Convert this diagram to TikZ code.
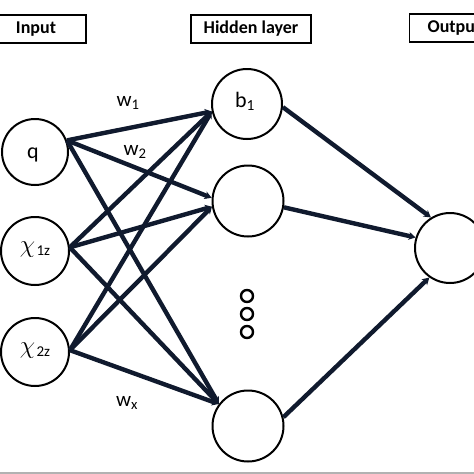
\documentclass[tikz,border=0pt]{standalone}
\usepackage{fontspec}
\setmainfont{Carlito}
\usetikzlibrary{arrows.meta}
\definecolor{linec}{HTML}{101A2E}
\newcommand{\chisub}[1]{{\fontsize{25}{26}\selectfont$\chi$}\kern1.5pt\raisebox{-3pt}{\fontsize{15}{16}\selectfont #1}}
\tikzset{
  neuron/.style={circle,draw=black,line width=2pt,minimum size=#1,inner sep=0pt},
  neuron/.default=68pt,
  dotc/.style={circle,draw=black,line width=2.4pt,minimum size=12pt,inner sep=0pt},
  hdr/.style={draw=black,line width=1.2pt,minimum height=28pt,inner sep=0pt,font=\fontsize{18}{20}\selectfont\bfseries},
  lab/.style={font=\fontsize{22}{24}\selectfont},
  wlab/.style={font=\fontsize{21}{24}\selectfont},
  conn/.style={draw=linec,line width=4.4pt,-{Stealth[length=7pt,width=8pt]}},
}
\begin{document}
\begin{tikzpicture}[x=1pt,y=-1pt]
\useasboundingbox (0,0) rectangle (474,474);
\clip (0,0) rectangle (474,474);
\fill[white] (0,0) rectangle (474,474);
\fill[black!30] (0,471.5) rectangle (474,474);
% header boxes
\node[hdr,minimum width=100pt] (hin) at (36,29) {Input};
\node[hdr,minimum width=120pt] (hhid) at (251,29) {Hidden layer};
\node[hdr,minimum width=100pt,anchor=west,text width=96pt,align=left] (hout) at (409,28) {\hspace*{16pt}Output};
% input neurons
\node[neuron=66pt] (q) at (35,152) {};
\node[lab] at (33,155) {q};
\node[neuron=68pt] (x1) at (35,251) {};
\node at (35,250) {\chisub{1z}};
\node[neuron=68pt] (x2) at (35,352) {};
\node at (35,351) {\chisub{2z}};
% hidden neurons
\node[neuron=70pt] (b1) at (247,104) {};
\node[lab] at (245,101) {b\textsubscript{1}};
\node[neuron=71pt] (h2) at (248,201) {};
\node[neuron=71pt] (h3) at (248,426) {};
\node[dotc] (d1) at (247,296) {};
\node[dotc] (d2) at (247,314) {};
\node[dotc] (d3) at (247,332) {};
% output neuron
\node[neuron=70pt] (out) at (450,248) {};
% connections input -> hidden
\coordinate (qs) at (q.20);
\coordinate (x1s) at (x1.6);
\coordinate (x2s) at (x2.3);
\coordinate (b1e) at (b1.192);
\coordinate (h2a) at (h2.175);
\coordinate (h2b) at (h2.189);
\coordinate (h3e) at (h3.143);
\draw[conn] (qs) -- (b1e);
\draw[conn] (qs) -- (h2a);
\draw[conn] (qs) -- (h3e);
\draw[conn] (x1s) -- (b1e);
\draw[conn] (x1s) -- (h2b);
\draw[conn] (x1s) -- (h3e);
\draw[conn] (x2s) -- (b1e);
\draw[conn] (x2s) -- (h2b);
\draw[conn] (x2s) -- (h3e);
% hidden -> output
\draw[conn] (b1.-5) -- (out.122);
\draw[conn] (h2.-10) -- (out.163);
\draw[conn] (h3.14) -- (out.235);
% weight labels
\node[wlab] (w1) at (128,103) {w\textsubscript{1}};
\node[wlab] (w2) at (135,152) {w\textsubscript{2}};
\node[wlab] (wx) at (127,403) {w\textsubscript{x}};
\end{tikzpicture}
\end{document}
